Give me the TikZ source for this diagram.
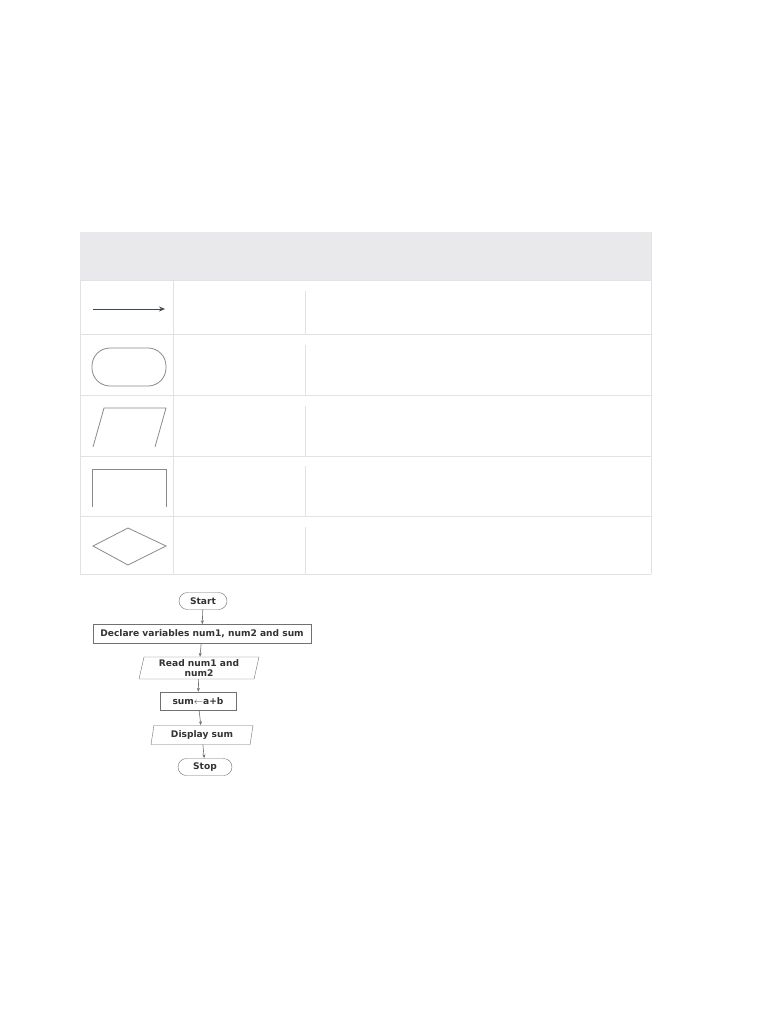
\documentclass[tikz,border=0pt]{standalone}
\usepackage{fontspec}
\setsansfont{DejaVu Sans}
\usepackage{tikz}
\usetikzlibrary{arrows.meta,shapes.misc,shapes.geometric}

\definecolor{headgray}{HTML}{E9E9EB}
\definecolor{rulegray}{HTML}{E2E2E4}
\definecolor{shapegray}{HTML}{8A8A8A}
\definecolor{slate}{HTML}{3D4A55}
\definecolor{flowline}{HTML}{707070}

\begin{document}
\begin{tikzpicture}[x=1pt, y=-1pt, >={Stealth[length=4pt,width=3pt]},
    every node/.style={font=\sffamily\bfseries\fontsize{9.1}{9.6}\selectfont, text=black!80},
    term/.style={rounded rectangle, draw=flowline, fill=white, minimum width=50, minimum height=17, inner sep=1pt},
    procbox/.style={rectangle, draw=flowline, fill=white, minimum height=19, inner sep=2pt},
    iobox/.style={trapezium, trapezium left angle=75, trapezium right angle=105,
      trapezium stretches body, draw=flowline, fill=white, inner sep=1pt, align=center},
    flow/.style={->, draw=flowline, line width=0.6pt},
    legend/.style={draw=shapegray, line width=0.8pt}
  ]
    % page
    \useasboundingbox (0,0) rectangle (768,1024);
    \fill[white] (0,0) rectangle (768,1024);

    % table header and rows
    \def\tl{80}
    \def\tr{651}
    \fill[headgray] (\tl,232) rectangle (\tr,280);
    \foreach \y in {280,334,395,456,516,574}
      \draw[rulegray, line width=0.8pt] (\tl,\y) -- (\tr,\y);
    \draw[rulegray, line width=0.8pt] (\tl,280) -- (\tl,574);
    \draw[rulegray, line width=0.8pt] (\tr,232) -- (\tr,574);
    \draw[rulegray, line width=0.8pt] (173,280) -- (173,574);
    % second column rule (starts a little below each row top)
    \foreach \a/\b in {291/334,345/395,406/456,466/516,527/574}
      \draw[rulegray, line width=0.8pt] (305,\a) -- (305,\b);

    % legend symbols
    \draw[slate, line width=0.8pt, -{Stealth[length=6pt,width=5pt]}] (93,309) -- (165,309);
    \draw[legend, rounded corners=18] (92,348) rectangle (166,386);
    \draw[legend] (93,447) -- (104,408) -- (166,408) -- (155,447);
    \draw[legend] (92,507) -- (92,469) -- (166,469) -- (166,507);
    \draw[legend] (93,546) -- (128,528) -- (166,546) -- (128,565) -- cycle;

    % flowchart
    \node[term]                          (start) at (203,601) {Start};
    \node[procbox, minimum width=218]    (decl)  at (202,634) {Declare variables num1, num2 and sum};
    \node[iobox, minimum width=120, minimum height=22] (read) at (199,668) {Read num1 and\\num2};
    \node[procbox, minimum width=76, minimum height=18] (sum) at (198,701) {sum$\leftarrow$a+b};
    \node[iobox, minimum width=102, minimum height=19] (disp) at (202,735) {Display sum};
    \node[term, minimum width=56]        (stop)  at (205,767) {Stop};

    \draw[flow] (start) -- (decl);
    \draw[flow] (decl)  -- (read);
    \draw[flow] (read)  -- (sum);
    \draw[flow] (sum)   -- (disp);
    \draw[flow] (disp)  -- (stop);
\end{tikzpicture}
\end{document}
